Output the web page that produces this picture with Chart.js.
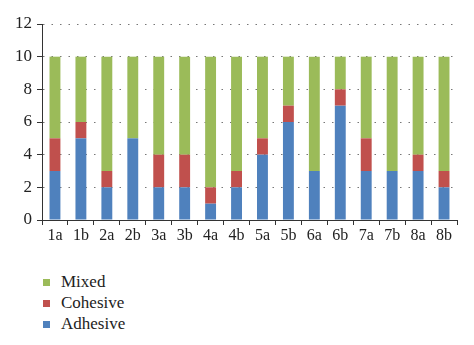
<!DOCTYPE html>
<html>
<head>
<meta charset="utf-8">
<script src="https://cdn.jsdelivr.net/npm/chart.js@4"></script>
<style>
  body { margin: 0; background: #fff; }
  #wrap { position: relative; width: 474px; height: 345px; }
  #legend { position: absolute; left: 43px; top: 271px; font-family: 'Liberation Serif'; font-size: 17px; color: #222; }
  #legend div { height: 21px; line-height: 21px; }
  #legend span { display: inline-block; width: 7px; height: 7px; margin-right: 11px; vertical-align: 1px; }
</style>
</head>
<body>
<div id="wrap">
  <canvas id="chart" width="474" height="249"></canvas>
  <div id="legend"></div>
</div>
<script>
// Data
const categories = ['1a', '1b', '2a', '2b', '3a', '3b', '4a', '4b', '5a', '5b', '6a', '6b', '7a', '7b', '8a', '8b'];
const adhesive = [3, 5, 2, 5, 2, 2, 1, 2, 4, 6, 3, 7, 3, 3, 3, 2];
const cohesive = [2, 1, 1, 0, 2, 2, 1, 1, 1, 1, 0, 1, 2, 0, 1, 1];
const mixed = [5, 4, 7, 5, 6, 6, 8, 7, 5, 3, 7, 2, 5, 7, 6, 7];
const yTicks = [0, 2, 4, 6, 8, 10, 12];

const colors = { Adhesive: '#4f81bd', Cohesive: '#c0504d', Mixed: '#9bbb59' };
const serif = 'Liberation Serif';

const ctx = document.getElementById('chart').getContext('2d');
const chart = new Chart(ctx, {
    type: 'bar',
    data: {
        labels: categories,
        datasets: [
            { label: 'Adhesive', data: adhesive, backgroundColor: colors.Adhesive },
            { label: 'Cohesive', data: cohesive, backgroundColor: colors.Cohesive },
            { label: 'Mixed', data: mixed, backgroundColor: colors.Mixed }
        ]
    },
    options: {
        responsive: false,
        animation: false,
        layout: { padding: { top: 24, right: 17, left: 0, bottom: 0 } },
        datasets: { bar: { barPercentage: 0.42, categoryPercentage: 1 } },
        plugins: { legend: { display: false }, tooltip: { enabled: false } },
        scales: {
            x: {
                stacked: true,
                grid: { offset: true, drawOnChartArea: false, color: '#333', tickLength: 5 },
                border: { color: '#333', width: 1 },
                ticks: { color: '#222', font: { family: serif, size: 16 }, padding: 1, maxRotation: 0 },
                afterFit(scale) { scale.height = 29; }
            },
            y: {
                stacked: true,
                min: 0,
                max: 12,
                afterBuildTicks(scale) { scale.ticks = yTicks.map(v => ({ value: v })); },
                grid: {
                    color: c => c.tick && c.tick.value === 0 ? 'rgba(0,0,0,0)' : '#777',
                    tickColor: '#333',
                    tickLength: 5,
                    tickBorderDash: []
                },
                border: { display: true, color: '#333', width: 1, dash: [1.5, 7] },
                ticks: { color: '#222', font: { family: serif, size: 17 }, padding: 5 },
                afterFit(scale) { scale.width = 42; }
            }
        }
    }
});

// legend, top to bottom as in the original
const legend = document.getElementById('legend');
['Mixed', 'Cohesive', 'Adhesive'].forEach(name => {
    const row = document.createElement('div');
    row.innerHTML = '<span style="background:' + colors[name] + '"></span>' + name;
    legend.appendChild(row);
});
</script>
</body>
</html>
